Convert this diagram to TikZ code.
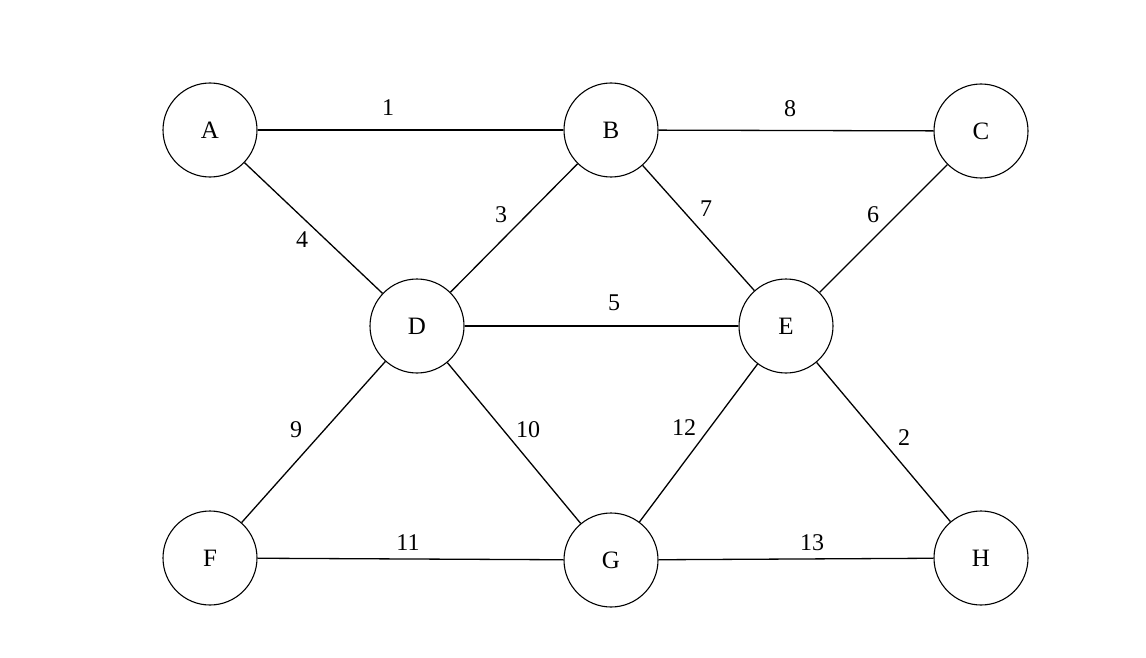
\documentclass[tikz,border=0pt]{standalone}
\usepackage{fontspec}
\setmainfont{Liberation Serif}
\begin{document}
\begin{tikzpicture}[x=1pt,y=-1pt,
  vert/.style={circle,draw,line width=1.1pt,minimum size=94pt,inner sep=0pt,font=\fontsize{25}{28}\selectfont},
  edge/.style={line width=1.3pt},
  wt/.style={font=\fontsize{24}{28}\selectfont}]
\useasboundingbox (0,0) rectangle (1146,658);
\node[vert] (A) at (210,130) {A};
\node[vert] (B) at (611,130) {B};
\node[vert] (C) at (981,131) {C};
\node[vert] (D) at (417,326) {D};
\node[vert] (E) at (786,326) {E};
\node[vert] (F) at (210,558) {F};
\node[vert] (G) at (611,560) {G};
\node[vert] (H) at (981,558) {H};
\draw[edge] (A)--(B); \draw[edge] (B)--(C);
\draw[edge] (A)--(D); \draw[edge] (D)--(B);
\draw[edge] (B)--(E); \draw[edge] (E)--(C);
\draw[edge] (D)--(E);
\draw[edge] (D)--(F); \draw[edge] (D)--(G);
\draw[edge] (E)--(G); \draw[edge] (E)--(H);
\draw[edge] (F)--(G); \draw[edge] (G)--(H);
\node[wt] (w1) at (388,108) {1};
\node[wt] (w8) at (790,109) {8};
\node[wt] (w4) at (302,240) {4};
\node[wt] (w3) at (501,215) {3};
\node[wt] (w7) at (706,209) {7};
\node[wt] (w6) at (873,215) {6};
\node[wt] (w5) at (614,303) {5};
\node[wt] (w9) at (296,430) {9};
\node[wt] (w10) at (528,430) {10};
\node[wt] (w12) at (684,428) {12};
\node[wt] (w2) at (904,438) {2};
\node[wt] (w11) at (408,543) {11};
\node[wt] (w13) at (812,543) {13};
\end{tikzpicture}
\end{document}
